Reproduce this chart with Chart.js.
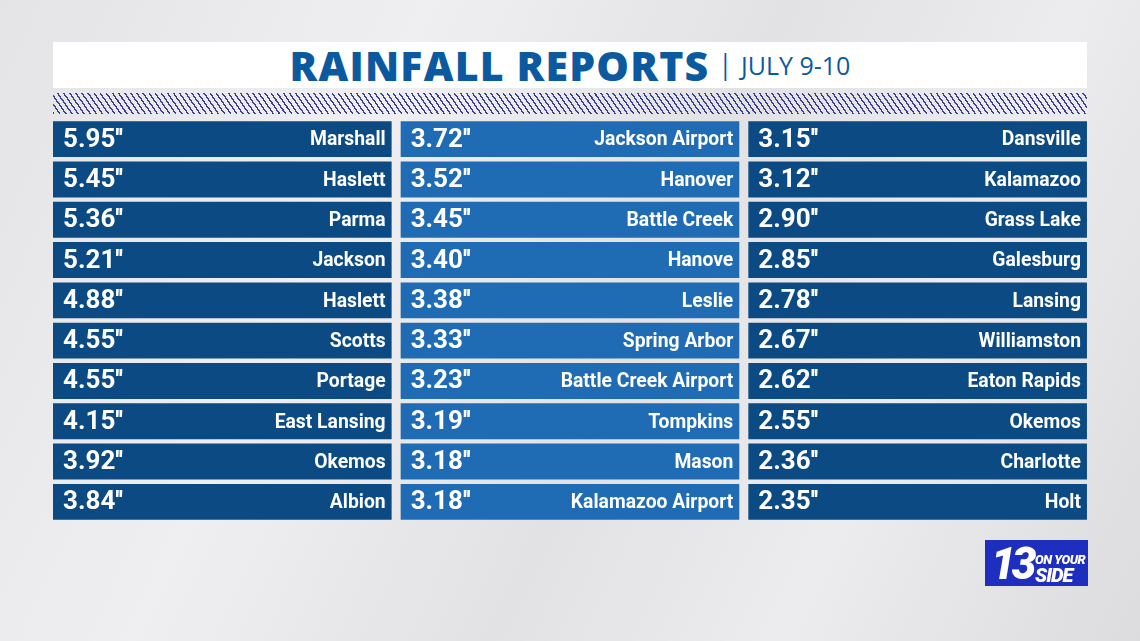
<!DOCTYPE html>
<html><head><meta charset="utf-8">
<script src="https://cdn.jsdelivr.net/npm/chart.js@4"></script>
<style>
html,body{margin:0;width:1140px;height:641px;overflow:hidden;font-family:Roboto,"Open Sans",sans-serif;}
body{background:linear-gradient(115deg,#e4e4e6 0%,#efeff1 30%,#e2e2e4 55%,#ececee 75%,#dcdcde 100%);position:relative}
#title{position:absolute;left:53px;top:42px;width:1034px;height:46px;background:#fff;display:flex;align-items:center;justify-content:center;}
#title .a{font-family:"Open Sans",sans-serif;font-weight:800;font-size:41px;color:#0b5aa0;letter-spacing:1.2px}
#title .b{font-size:34px;color:#0b5aa0;margin:0 12px;font-weight:300}
#title .c{font-size:25px;color:#0b5aa0;font-family:"Open Sans",sans-serif}
#stripes{position:absolute;left:53px;top:93px;width:1034px;height:21px;background:repeating-linear-gradient(55deg,#3a3f8e 0 1.4px,transparent 1.4px 5px);}
#logo{position:absolute;left:985px;top:540px;width:103px;height:46px;background:#1e2fbf;color:#fff;font-family:Roboto;font-weight:900;}
#logo .n{position:absolute;left:6px;top:-2px;font-size:44px;font-style:italic;letter-spacing:-4px}
#logo .t{position:absolute;left:50px;top:12px;font-size:13px;font-style:italic;letter-spacing:-0.5px}
#logo .s{position:absolute;left:50px;top:23px;font-size:20px;font-style:italic;letter-spacing:-1px}
canvas{position:absolute;left:0;top:0}
</style></head><body>
<div id="title"><span class="a">RAINFALL REPORTS</span><span class="b">|</span><span class="c">JULY 9-10</span></div>
<div id="stripes"></div>
<div id="wrap" style="position:absolute;left:0;top:0;width:1140px;height:641px"><canvas id="c"></canvas></div>
<div id="logo"><span class="n">13</span><span class="t">ON YOUR</span><span class="s">SIDE</span></div>
<script>
const col1Places=["Marshall","Haslett","Parma","Jackson","Haslett","Scotts","Portage","East Lansing","Okemos","Albion"];
const col1Values=["5.95","5.45","5.36","5.21","4.88","4.55","4.55","4.15","3.92","3.84"];
const col2Places=["Jackson Airport","Hanover","Battle Creek","Hanove","Leslie","Spring Arbor","Battle Creek Airport","Tompkins","Mason","Kalamazoo Airport"];
const col2Values=["3.72","3.52","3.45","3.40","3.38","3.33","3.23","3.19","3.18","3.18"];
const col3Places=["Dansville","Kalamazoo","Grass Lake","Galesburg","Lansing","Williamston","Eaton Rapids","Okemos","Charlotte","Holt"];
const col3Values=["3.15","3.12","2.90","2.85","2.78","2.67","2.62","2.55","2.36","2.35"];
const rows=[0,1,2,3,4,5,6,7,8,9];
const cols=[{p:col1Places,v:col1Values,c:"#0b4a83"},{p:col2Places,v:col2Values,c:"#1f6cb5"},{p:col3Places,v:col3Values,c:"#0b4a83"}];
const textPlugin={id:'txt',afterDatasetsDraw(ch){
  const ctx=ch.ctx,x=ch.scales.x;
  ctx.save();ctx.fillStyle="#fff";ctx.textBaseline="middle";
  cols.forEach((cd,i)=>{
    const meta=ch.getDatasetMeta(i);
    meta.data.forEach((bar,r)=>{
      const l=x.getPixelForValue(i), rr=x.getPixelForValue(i+0.974), yy=bar.y+1;
      ctx.font="bold 26px Roboto";ctx.textAlign="left";ctx.fillText(cd.v[r]+"''",l+10,yy);
      ctx.save();ctx.translate(rr-6,yy);ctx.scale(0.92,1);
      ctx.font="bold 21px Roboto";ctx.textAlign="right";ctx.fillText(cd.p[r],0,0);
      ctx.restore();
    });
  });
  ctx.restore();
}};
new Chart(document.getElementById('c'),{
  type:'bar',
  data:{labels:rows,datasets:cols.map((cd,i)=>({data:rows.map(()=>[i,i+0.974]),backgroundColor:cd.c,grouped:false,categoryPercentage:1,barPercentage:0.89}))},
  options:{indexAxis:'y',responsive:true,maintainAspectRatio:false,animation:false,
    layout:{padding:{left:53,right:44,top:119,bottom:119}},
    plugins:{legend:{display:false},tooltip:{enabled:false}},
    scales:{x:{type:'linear',min:0,max:3,display:false},y:{display:false}}},
  plugins:[textPlugin]
});
</script></body></html>
